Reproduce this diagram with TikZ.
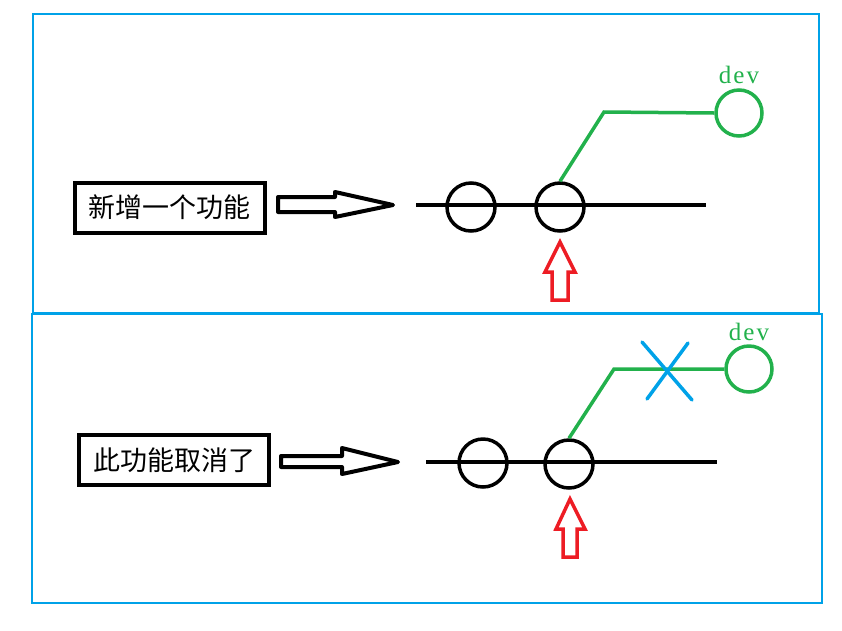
\documentclass[tikz,border=0pt]{standalone}
\usepackage{fontspec}
\newfontfamily\cjk{Noto Sans CJK SC}
\newfontfamily\devfont[LetterSpace=8]{Liberation Serif}
\definecolor{pblue}{HTML}{00A2E8}
\definecolor{pgreen}{HTML}{22B14C}
\definecolor{pred}{HTML}{ED1C24}
\begin{document}
\begin{tikzpicture}[x=1pt,y=-1pt,
  panel/.style={draw=pblue,line width=1.3pt},
  labelbox/.style={draw=black,line width=4pt,minimum width=190pt,minimum height=50pt,inner sep=0pt,font=\cjk\fontsize{27}{27}\selectfont},
  commit/.style={draw=black,circle,line width=3.5pt,minimum size=48pt,inner sep=0pt},
  devcommit/.style={draw=pgreen,circle,line width=3.5pt,minimum size=46pt,inner sep=0pt},
  devlabel/.style={text=pgreen,font=\devfont\fontsize{25}{25}\selectfont,inner sep=0pt},
  trunk/.style={line width=3.5pt,draw=black},
  branch/.style={line width=3.5pt,draw=pgreen},
  hollow/.style={draw=black,line width=4pt,line join=round,fill=white},
  redarrow/.style={draw=pred,line width=3.5pt,line join=miter,fill=white},
  cross/.style={draw=pblue,line width=3.5pt,line cap=round}]
\useasboundingbox (0,0) rectangle (842,630);
% panels
\draw[panel] (33,14) rectangle (819,313);
\draw[panel] (32,314) rectangle (822,603);

% ---------- top panel ----------
\node[labelbox] (t1) at (169.5,207.5) {新增一个功能};
\draw[hollow] (278,197) -- (335,197) -- (335,192) -- (393,205) -- (335,217) -- (335,212) -- (278,212) -- cycle;
\coordinate (ta) at (416,205);
\coordinate (tb) at (706,205);
\draw[trunk] (ta) -- (tb);
\node[commit] (tc1) at (471,207) {};
\node[commit] (tc2) at (560,207) {};
\node[devcommit] (tdev) at (739,113) {};
\node[devlabel] (tdevl) at (739,75) {dev};
\coordinate (tk) at (604,112);
\draw[branch] (tc2.north) -- (tk) -- (tdev.west);
\draw[redarrow] (560,242) -- (575,272) -- (568,272) -- (568,300) -- (552,300) -- (552,272) -- (545,272) -- cycle;

% ---------- bottom panel ----------
\node[labelbox] (b1) at (174,460) {此功能取消了};
\draw[hollow] (281,456) -- (342,456) -- (342,448) -- (398,462) -- (342,474) -- (342,467) -- (281,467) -- cycle;
\coordinate (ba) at (426,462);
\coordinate (bb) at (717,462);
\draw[trunk] (ba) -- (bb);
\node[commit] (bc1) at (483,463) {};
\node[commit] (bc2) at (569,464) {};
\node[devcommit] (bdev) at (749,369) {};
\node[devlabel] (bdevl) at (749,332) {dev};
\coordinate (bk) at (614,369);
\draw[branch] (bc2.north) -- (bk) -- (bdev.west);
\coordinate (x1) at (642,342);
\coordinate (x2) at (692,400);
\coordinate (x3) at (688,343);
\coordinate (x4) at (647,399);
\draw[cross] (x1) -- (x2);
\draw[cross] (x3) -- (x4);
\draw[redarrow] (570,499) -- (585,529) -- (577,529) -- (577,557) -- (563,557) -- (563,529) -- (556,529) -- cycle;
\end{tikzpicture}
\end{document}
